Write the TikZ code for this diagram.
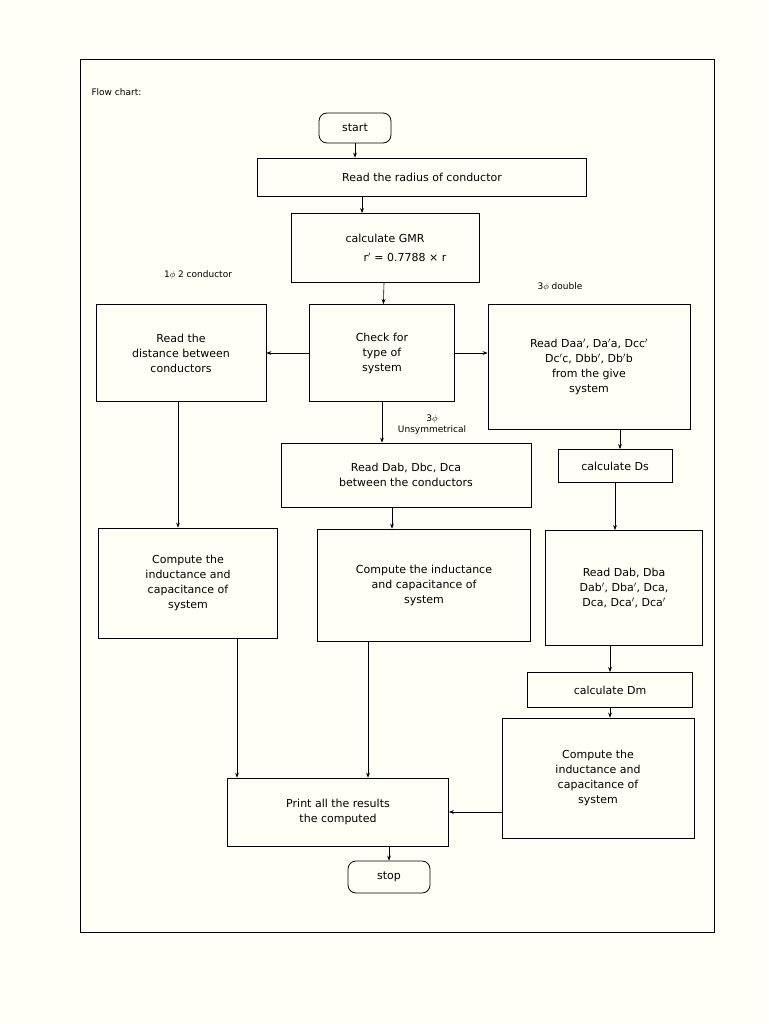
\documentclass[tikz,border=0pt]{standalone}
\usepackage{fontspec}
\setmainfont{DejaVu Sans}
\usetikzlibrary{arrows.meta}
\begin{document}
\begin{tikzpicture}[x=1pt,y=-1pt,
 box/.style={draw,line width=0.8pt,align=center,font=\fontsize{11}{15}\selectfont,inner sep=2pt},
 term/.style={draw,line width=0.8pt,rounded corners=8pt,font=\fontsize{11}{13}\selectfont},
 lbl/.style={font=\fontsize{9}{11}\selectfont},
 arr/.style={-{Stealth[length=5pt]},line width=0.6pt}]
\fill[white!97!yellow] (0,0) rectangle (768,1024);
\useasboundingbox (0,0) rectangle (768,1024);
\draw[line width=1pt] (80,60) rectangle (714,932);
\node[lbl,anchor=west] (title) at (88,92) {Flow chart:};
\node[term,minimum width=72,minimum height=30] (start) at (355,128) {start};
\node[box,minimum width=329,minimum height=38] (radius) at (422,177) {Read the radius of conductor};
\node[box,minimum width=188,minimum height=69] (gmr) at (385,248) {calculate GMR\\[4pt]\hspace*{40pt}r$'$ = 0.7788 × r};
\node[lbl] (l1) at (198,275) {1$\phi$ 2 conductor};
\node[lbl] (l3) at (560,287) {3$\phi$ double};
\node[box,minimum width=170,minimum height=97] (dist) at (181,353) {Read the\\distance between\\conductors};
\node[box,minimum width=145,minimum height=97] (check) at (382,353) {Check for\\type of\\system};
\node[box,minimum width=202,minimum height=125] (dbl) at (589,367) {Read Daa$'$, Da$'$a, Dcc$'$\\Dc$'$c, Dbb$'$, Db$'$b\\from the give\\system};
\node[lbl,align=center] (lu) at (432,425) {3$\phi$\\Unsymmetrical};
\node[box,minimum width=250,minimum height=64] (dab) at (406,475) {Read Dab, Dbc, Dca\\between the conductors};
\node[box,minimum width=114,minimum height=33] (ds) at (615,466) {calculate Ds};
\node[box,minimum width=179,minimum height=110] (c1) at (188,583) {Compute the\\inductance and\\capacitance of\\system};
\node[box,minimum width=213,minimum height=112] (c2) at (424,585) {Compute the inductance\\and capacitance of\\system};
\node[box,minimum width=157,minimum height=115] (rd) at (624,588) {Read Dab, Dba\\Dab$'$, Dba$'$, Dca,\\Dca, Dca$'$, Dca$'$};
\node[box,minimum width=165,minimum height=35] (dm) at (610,690) {calculate Dm};
\node[box,minimum width=192,minimum height=120] (c3) at (598,778) {Compute the\\inductance and\\capacitance of\\system};
\node[box,minimum width=221,minimum height=68] (print) at (338,812) {Print all the results\\the computed};
\node[term,minimum width=82,minimum height=32] (stop) at (389,877) {stop};
\draw[arr] (start) -- (start.south |- radius.north);
\draw[arr] (radius.south -| 362,0) -- (gmr.north -| 362,0);
\draw[arr] (gmr) -- (check);
\draw[arr] (check) -- (dist);
\draw[arr] (check) -- (dbl.west |- check);
\draw[arr] (check) -- (check.south |- dab.north);
\draw[arr] (dist.south -| 178,0) -- (c1.north -| 178,0);
\draw[arr] (dbl.south -| 620,0) -- (ds.north -| 620,0);
\draw[arr] (ds) -- (ds.south |- rd.north);
\draw[arr] (dab.south -| 392,0) -- (c2.north -| 392,0);
\draw[arr] (rd.south -| 610,0) -- (dm);
\draw[arr] (dm) -- (dm.south |- c3.north);
\draw[arr] (c1.south -| 237,0) -- (print.north -| 237,0);
\draw[arr] (c2.south -| 368,0) -- (print.north -| 368,0);
\draw[arr] (c3.west |- print) -- (print);
\draw[arr] (print.south -| stop) -- (stop);
\end{tikzpicture}
\end{document}
